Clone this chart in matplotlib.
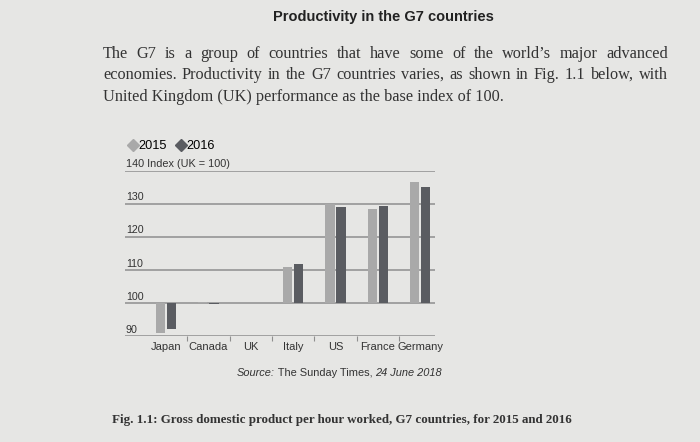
import numpy as np
import matplotlib.pyplot as plt
import matplotlib.transforms as mtransforms
from matplotlib.lines import Line2D

# Data (index, UK = 100)
countries = ['Japan', 'Canada', 'UK', 'Italy', 'US', 'France', 'Germany']
idx_2015 = [91.0, 100.2, 100.0, 111.0, 130.0, 128.3, 136.5]
idx_2016 = [92.2, 99.7, 100.0, 111.9, 129.0, 129.3, 135.2]
grid_vals = [90, 100, 110, 120, 130, 140]
years = ['2015', '2016']

paper = '#e6e6e4'
light = '#a9a9a9'
dark = '#5a5c61'
ink = '#333333'

W, H = 700, 442
fig = plt.figure(figsize=(7, 4.42), dpi=100, facecolor=paper)

# heading
fig.text(383/W, 1-17/H, 'Productivity in the G7 countries', ha='center', va='center',
         fontsize=10.5, fontweight='bold', family='Liberation Sans', color='#222222')

# paragraph, justified by hand
para = ["The G7 is a group of countries that have some of the world\u2019s major advanced",
        "economies. Productivity in the G7 countries varies, as shown in Fig. 1.1 below, with",
        "United Kingdom (UK) performance as the base index of 100."]
line_y = [54, 75, 97]
pkw = dict(fontsize=11.7, family='Liberation Serif', color=ink, va='center', ha='left')

def justify(words, x0, x1, y):
    r = fig.canvas.get_renderer()
    arts = [fig.text(0, 1-y/H, w, **pkw) for w in words]
    widths = [a.get_window_extent(r).width for a in arts]
    gap = (x1 - x0 - sum(widths)) / (len(words) - 1)
    x = x0
    for a, w in zip(arts, widths):
        a.set_x(x/W)
        x += w + gap

justify(para[0].split(), 103, 668, line_y[0])
justify(para[1].split(), 103, 668, line_y[1])
fig.text(103/W, 1-line_y[2]/H, para[2], **pkw)

# chart
ax = fig.add_axes([125/W, 1-336/H, 310/W, (336-170.7)/H])
ax.set_facecolor('none')
ax.set_ylim(90, 140)
ax.set_xlim(-0.97, 6.35)
for s in ax.spines.values():
    s.set_visible(False)

for v in grid_vals:
    ax.axhline(v, color='#8e8e8e', lw=1.1, zorder=1)

x = np.arange(len(countries))
bw = 0.22
ax.bar(x - 0.132, np.array(idx_2015) - 100, bw, bottom=100, color=light, zorder=2)
ax.bar(x + 0.132, np.array(idx_2016) - 100, bw, bottom=100, color=dark, zorder=2)

ax.set_yticks([])
ax.set_xticks(x)
ax.set_xticklabels(countries, fontsize=8, family='Liberation Sans', color=ink)
ax.tick_params(axis='x', which='major', length=0, pad=4)
ax.set_xticks(x[:-1] + 0.5, minor=True)
ax.tick_params(axis='x', which='minor', length=3.5, width=0.8, color='#8e8e8e', direction='out')

trans = mtransforms.blended_transform_factory(ax.transAxes, ax.transData)
for v in grid_vals[:-1]:
    ax.text(0.003, v + 0.4, str(v), transform=trans, ha='left', va='bottom',
            fontsize=7.7, family='Liberation Sans', color=ink)
ax.text(0.003, grid_vals[-1] + 0.4, '140 Index (UK = 100)', transform=trans, ha='left', va='bottom',
        fontsize=7.8, family='Liberation Sans', color=ink)

# legend
handles = [Line2D([], [], marker='D', ls='none', color=light, markersize=6),
           Line2D([], [], marker='D', ls='none', color=dark, markersize=6)]
fig.legend(handles, years, loc='upper left', bbox_to_anchor=(128/W, 1-140/H), ncol=2, frameon=False,
           handlelength=0.85, handletextpad=0.0, columnspacing=0.65, borderpad=0, borderaxespad=0,
           prop={'family': 'Liberation Sans', 'size': 9.2})

# source line
skw = dict(fontsize=7.9, family='Liberation Sans', color=ink, va='bottom')
t1 = fig.text(237/W, 1-378/H, 'Source:', style='italic', **skw)
t2 = ax.annotate(' The Sunday Times, ', xy=(1, 0), xycoords=t1, ha='left', annotation_clip=False, **skw)
t3 = ax.annotate('24 June 2018', xy=(1, 0), xycoords=t2, ha='left', style='italic', annotation_clip=False, **skw)

# caption
fig.text(112/W, 1-420/H, 'Fig. 1.1: Gross domestic product per hour worked, G7 countries, for 2015 and 2016',
         fontsize=9.4, fontweight='bold', family='Liberation Serif', color=ink, va='center')

fig.savefig('out.png', dpi=100, facecolor=paper)
